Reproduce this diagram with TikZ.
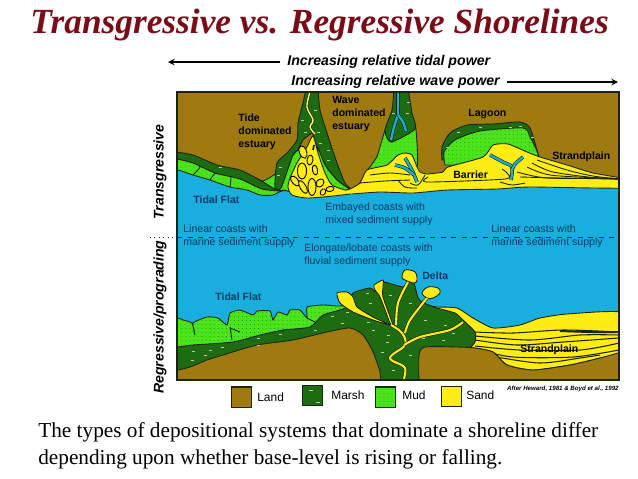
\documentclass[tikz,border=0pt]{standalone}
\usepackage{fontspec}
\setmainfont{Liberation Sans}
\newfontfamily\serifface{Liberation Serif}
\usepackage{xcolor}
\usetikzlibrary{patterns.meta}
\definecolor{landbrown}{HTML}{9E7A10}
\definecolor{marshgreen}{HTML}{1E6B12}
\definecolor{mudgreen}{HTML}{4BE41C}
\definecolor{sandyellow}{HTML}{FFEC14}
\definecolor{seablue}{HTML}{1AAEDE}
\definecolor{titlered}{HTML}{7A0C18}
\definecolor{mapnavy}{HTML}{0D3A66}
\definecolor{edgeink}{HTML}{1A2410}
\tikzset{
	land/.style={fill=landbrown, draw=edgeink, line width=.5pt},
	marsh/.style={fill=marshgreen, draw=edgeink, line width=.5pt},
	mud/.style={fill=mudgreen, draw=edgeink, line width=.5pt, postaction={pattern={Dots[radius=.22pt,distance=2.3pt]}, pattern color=marshgreen}},
	sand/.style={fill=sandyellow, draw=edgeink, line width=.5pt},
	contour/.style={draw=edgeink, line width=.5pt},
	isle/.style={draw=black, fill=sandyellow, line width=.5pt},
	sandchannel/.style={draw=edgeink, line width=.35pt, double=sandyellow, double distance=1.2pt},
	bluechannel/.style={draw=edgeink, line width=.35pt, double=seablue, double distance=1.3pt},
	headline/.style={anchor=west, font=\fontsize{20.1}{24}\selectfont\serifface\bfseries\itshape, text=titlered, inner sep=0pt},
	bodyline/.style={anchor=west, font=\fontsize{12.1}{14}\selectfont\serifface, inner sep=0pt},
	powerlabel/.style={anchor=west, font=\fontsize{8.05}{9}\selectfont\bfseries\itshape, inner sep=0pt},
	sidelabel/.style={rotate=90, font=\fontsize{8}{9}\selectfont\bfseries\itshape, inner sep=0pt},
	place/.style={anchor=west, font=\fontsize{6}{7.4}\selectfont\bfseries, inner sep=0pt},
	seaplace/.style={place, text=mapnavy},
	seanote/.style={anchor=west, font=\fontsize{6}{7.4}\selectfont, text=mapnavy, inner sep=0pt},
	swatch/.style={minimum size=11.4pt, inner sep=0pt, draw=edgeink, line width=.6pt},
	keylabel/.style={anchor=west, font=\fontsize{6.8}{8}\selectfont, inner sep=0pt},
	creditline/.style={anchor=east, font=\fontsize{3.5}{4}\selectfont\bfseries\itshape, inner sep=0pt}
}
\begin{document}
\begin{tikzpicture}[x=0.02cm, y=-0.02cm]
	\useasboundingbox (0,0) rectangle (638,478);
	\begin{scope}
		\clip (177,92) rectangle (619,380);
		\fill[seablue] (177,92) rectangle (619,380);
		\fill[landbrown] (177,92) -- (619,92) -- (619,180) -- (350,190) -- (273,192) -- (177,160) -- cycle;
		\filldraw[mud] plot[smooth cycle, tension=.4] coordinates {(170,153) (193,156) (217,166) (240,171) (262,181) (280,170) (298,150) (302,160) (292,190) (283,190) (273,195) (260,195) (247,190) (230,187) (210,180) (193,175) (178,170) (170,170)};
		\draw[contour] plot[smooth, tension=.4] coordinates {(193,175) (200,167) (197,160)};
		\draw[contour] plot[smooth, tension=.4] coordinates {(210,180) (217,172) (235,174) (250,180)};
		\draw[contour] plot[smooth, tension=.4] coordinates {(230,187) (231,177) (228,172)};
		\filldraw[marsh] plot[smooth, tension=.4] coordinates {(170,151) (193,155) (217,165) (240,170) (260,180) (273,188) (282,191) (262,189) (240,179) (215,173) (193,163) (177,159) (170,159)} -- cycle;
		\filldraw[marsh] plot[smooth, tension=.4] coordinates {(306,88) (303,103) (298,123) (297,140) (287,153) (277,163) (275,187) (281,188) (293,155) (298,150) (303,140) (312,133) (313,135) (317,147) (325,165) (337,180) (348,188) (352,190) (345,183) (337,163) (327,133) (320,110) (318,88)} -- cycle;
		\filldraw[mud] plot[smooth, tension=.4] coordinates {(318,147) (325,165) (337,180) (348,188) (354,192) (340,193) (328,187) (318,165)} -- cycle;
		\filldraw[sand] plot[smooth cycle, tension=.4] coordinates {(313,136) (318,153) (325,173) (332,185) (345,190) (356,192) (350,194) (333,196) (307,198) (292,195) (288,187) (290,178) (297,163) (307,147)};
		\foreach \x/\y/\w/\h/\a in {303/152/3.6/6.5/20, 310/160/3/5/-10, 302/171/4.6/8/0, 315/170/2.6/5/10, 295/181/3/6/40, 303/187/3/7/30, 312/187/4/8.5/0, 320/183/3.5/4.5/-40, 323/192/2.5/3.5/-30, 330/189/4/2.5/10}
			\draw[isle, rotate around={\a:(\x,\y)}] (\x,\y) ellipse [x radius=\w, y radius=\h];
		\draw[line width=.9pt, black] (314,145) -- (313,150);
		\draw[draw=edgeink, line width=.3pt, double=sandyellow!60!white, double distance=.8pt] plot[smooth, tension=.6] coordinates {(310,92) (307,107) (313,120) (310,127) (315,134)};
		\filldraw[mud] plot[smooth, tension=.4] coordinates {(385,130) (392,142) (413,127) (416,130) (417,167) (400,168) (367,172) (370,167) (377,157)} -- cycle;
		\filldraw[marsh] plot[smooth, tension=.4] coordinates {(394,88) (392,110) (385,130) (391,142) (415,129) (412,113) (408,88)} -- cycle;
		\draw[bluechannel] (398,90) -- (398,117);
		\draw[bluechannel] plot[smooth, tension=.5] coordinates {(398,115) (394,127) (391,140)};
		\draw[bluechannel] plot[smooth, tension=.5] coordinates {(398,115) (403,122) (406,131)};
		\filldraw[marsh] plot[smooth, tension=.4] coordinates {(442,160) (442,147) (450,133) (467,125) (493,124) (520,122) (530,128) (537,150) (540,160)} -- cycle;
		\filldraw[mud] plot[smooth, tension=.4] coordinates {(445,165) (444,152) (455,140) (480,131) (523,128) (530,137) (538,158) (510,165)} -- cycle;
		\filldraw[sand] plot[smooth, tension=.35] coordinates {(345,190) (350,189) (360,183) (367,170) (387,165) (398,155) (405,153) (412,155) (417,167) (420,172) (427,174) (443,172) (448,167) (483,157) (493,145) (508,144) (527,152) (540,157) (567,165) (593,173) (625,179) (625,188) (530,187) (497,189) (447,190) (413,193) (380,192) (352,194)};
		\draw[contour] plot[smooth, tension=.5] coordinates {(370,175) (390,173) (410,175)};
		\draw[contour] plot[smooth, tension=.5] coordinates {(360,183) (385,181) (410,180)};
		\draw[bluechannel] plot[smooth, tension=.5] coordinates {(405,158) (412,170) (417,182)};
		\draw[bluechannel] plot[smooth, tension=.5] coordinates {(395,165) (405,168) (414,175)};
		\draw[contour] plot[smooth, tension=.6] coordinates {(410,183) (418,185) (425,175)};
		\draw[contour] plot[smooth, tension=.6] coordinates {(398,180) (405,187) (417,188)};
		\draw[contour] plot[smooth, tension=.4] coordinates {(428,177) (427,182) (505,179) (507,173) (502,169)};
		\draw[contour] plot[smooth, tension=.5] coordinates {(500,182) (512,185) (525,183)};
		\foreach \a/\b/\c/\d/\e/\f in {537/160/567/170/593/176, 532/163/553/172/597/178, 527/167/550/175/600/178, 517/172/547/178/607/178, 520/177/560/178/612/179}
			\draw[contour] plot[smooth, tension=.5] coordinates {(\a,\b) (\c,\d) (\e,\f) (619,179)};
		\draw[bluechannel] plot[smooth, tension=.5] coordinates {(490,155) (503,162) (512,167) (511,180)};
		\draw[bluechannel] plot[smooth, tension=.5] coordinates {(523,157) (515,164) (512,170)};
		\filldraw[mud] plot[smooth, tension=.3] coordinates {(170,318) (178,318) (183,320) (192,323) (195,335) (193,323) (207,317) (218,318) (227,325) (230,313) (240,310) (253,315) (257,311) (270,311) (273,320) (278,312) (287,315) (290,310) (300,310) (307,318) (307,307) (323,305) (337,306) (350,307) (345,330) (177,352) (170,352)} -- cycle;
		\draw[contour] plot[smooth, tension=.4] coordinates {(230,327) (232,340)};
		\draw[contour] plot[smooth, tension=.4] coordinates {(230,328) (240,332)};
		\draw[contour] plot[smooth, tension=.4] coordinates {(307,318) (315,322)};
		\filldraw[sand] plot[smooth, tension=.35] coordinates {(430,306) (437,307) (457,308) (473,318) (493,328) (520,325) (540,318) (567,314) (625,313) (625,352) (600,358) (570,365) (533,370) (507,365) (493,352) (475,348) (465,345) (460,320)} -- cycle;
		\foreach \a/\b/\c/\d/\e/\f/\g/\h in {475/332/513/333/563/330/619/332, 475/336/530/340/580/335/619/335, 475/340/517/345/563/342/619/338, 475/346/520/350/580/350/619/343, 480/350/513/357/573/357/619/350, 497/357/540/363/580/358/600/355}
			\draw[contour, line width=.6pt] plot[smooth, tension=.5] coordinates {(\a,\b) (\c,\d) (\e,\f) (\g,\h)};
		\draw[line width=1.1pt, edgeink] plot[smooth, tension=.5] coordinates {(560,331) (590,332) (619,332)};
		\filldraw[marsh] plot[smooth, tension=.35] coordinates {(170,347) (177,347) (193,345) (233,342) (260,335) (283,330) (310,327) (323,315) (345,308) (353,293) (370,288) (376,292) (383,282) (403,287) (408,282) (414,283) (418,298) (424,303) (437,308) (455,313) (463,320) (475,332) (475,342) (470,348)} -- (470,385) -- (170,385) -- cycle;
		\filldraw[land] plot[smooth, tension=.4] coordinates {(170,372) (178,370) (190,367) (207,360) (223,355) (257,345) (293,340) (327,332) (350,328) (363,335) (373,352) (380,372) (381,385)} -- (170,385) -- cycle;
		\filldraw[land] plot[smooth, tension=.4] coordinates {(419,385) (419,355) (425,347) (457,347) (475,348) (493,352) (507,365) (533,370) (570,365) (600,358) (625,351)} -- (625,385) -- cycle;
		\filldraw[sand] plot[smooth cycle, tension=.35] coordinates {(337,293) (347,292) (353,297) (357,307) (373,317) (390,325) (373,320) (353,312) (340,303)};
		\filldraw[sand] plot[smooth cycle, tension=.35] coordinates {(374,285) (383,280) (383,287) (383,297) (393,325) (390,323) (380,297) (375,290)};
		\filldraw[sand] plot[smooth cycle, tension=.6] coordinates {(402,277) (405,270) (415,272) (417,280) (414,283) (405,280)};
		\filldraw[sand] plot[smooth cycle, tension=.6] coordinates {(422,293) (428,287) (438,288) (440,293) (433,298) (427,298)};
		\draw[sandchannel] plot[smooth, tension=.5] coordinates {(408,282) (398,303) (396,325)};
		\draw[sandchannel] plot[smooth, tension=.5] coordinates {(427,298) (410,320) (405,333)};
		\draw[sandchannel] plot[smooth, tension=.6] coordinates {(391,325) (402,333) (405,345) (390,358) (405,368) (402,384)};
		\draw[sandchannel] plot[smooth, tension=.5] coordinates {(404,345) (420,337) (450,330) (463,322)};
		\foreach \x/\y in {302/120, 305/132, 318/132, 320/143, 328/150, 328/160, 278/175, 280/167, 315/110, 408/102, 393/113, 407/113, 458/132, 447/147, 480/127, 520/126, 510/127, 532/137, 193/351, 210/350, 222/347, 192/360, 205/355, 258/338, 258/345, 280/334, 315/330, 332/316, 347/312, 342/323, 367/293, 370/303, 368/322, 373/330, 388/335, 387/342, 382/352, 393/370, 410/355, 410/303, 425/320, 445/325, 453/333, 443/340, 423/338, 390/295, 220/167}
			\draw[white!65!marshgreen, line width=.3pt] (\x-1.5,\y) -- (\x+1.5,\y) (\x,\y) -- (\x,\y+1);
	\end{scope}
	\draw[edgeink, line width=.6pt] (177,92) rectangle (619,380);
	\draw[edgeink, dotted, line width=.5pt] (150,237) -- (177,237);
	\draw[edgeink, dashed, line width=.5pt] (177,237) -- (619,237);
	\node[headline] (headline) at (30,25) {Transgressive vs. Regressive Shorelines};
	\node[powerlabel] (tidalpower) at (287,62) {Increasing relative tidal power};
	\node[powerlabel] (wavepower) at (291,82) {Increasing relative wave power};
	\coordinate (tidaltip) at (168,62);
	\coordinate (wavetip) at (618,82);
	\draw[-stealth, line width=.7pt] ([xshift=-4pt]tidalpower.west)--(tidaltip);
	\draw[-stealth, line width=.7pt] ([xshift=4pt]wavepower.east)--(wavetip);
	\node[sidelabel] (transgressive) at (160,172) {Transgressive};
	\node[sidelabel] (regressive) at (160,317) {Regressive/prograding};
	\node[place, align=left] (tideestuary) at (238,132) {Tide\\dominated\\estuary};
	\node[place, align=left] (waveestuary) at (332,114) {Wave\\dominated\\estuary};
	\node[place] (lagoon) at (468,114) {Lagoon};
	\node[place] (upperstrand) at (552,157) {Strandplain};
	\node[place] (barrier) at (453,175) {Barrier};
	\node[seaplace] (upperflat) at (193,200) {Tidal Flat};
	\node[seaplace] (lowerflat) at (215,297) {Tidal Flat};
	\node[seaplace] (delta) at (422,276) {Delta};
	\node[place] (lowerstrand) at (520,350) {Strandplain};
	\node[seanote, align=left] (embayed) at (325,214.5) {Embayed coasts with\\mixed sediment supply};
	\node[seanote, align=left] (linearleft) at (183,236) {Linear coasts with\\marine sediment supply};
	\node[seanote, align=left] (linearright) at (491,236) {Linear coasts with\\marine sediment supply};
	\node[seanote, align=left] (elongate) at (304,255.5) {Elongate/lobate coasts with\\fluvial sediment supply};
	\node[swatch, fill=landbrown] (landkey) at (241.5,397) {};
	\node[keylabel] (landtext) at (257,397) {Land};
	\node[swatch, fill=marshgreen] (marshkey) at (312.5,395.5) {};
	\draw[white!65!marshgreen, line width=.3pt] (309,390) -- (313,390) (316,402) -- (320,402);
	\node[keylabel] (marshtext) at (331,395) {Marsh};
	\node[swatch, fill=mudgreen, postaction={pattern={Dots[radius=.22pt,distance=2.3pt]}, pattern color=marshgreen}] (mudkey) at (385.5,397) {};
	\node[keylabel] (mudtext) at (402,395.5) {Mud};
	\node[swatch, fill=sandyellow] (sandkey) at (451.5,396.5) {};
	\node[keylabel] (sandtext) at (466,395) {Sand};
	\node[creditline] (credit) at (619,389) {After Heward, 1981 \& Boyd et al., 1992};
	\node[bodyline] (bodyone) at (38,432) {The types of depositional systems that dominate a shoreline differ};
	\node[bodyline] (bodytwo) at (38,459) {depending upon whether base-level is rising or falling.};
\end{tikzpicture}
\end{document}
